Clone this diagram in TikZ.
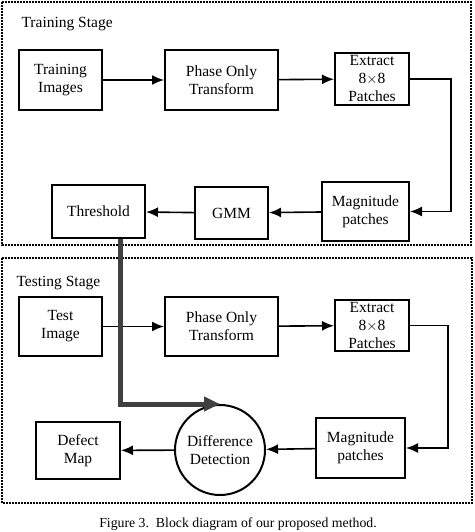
\documentclass[tikz,border=0pt]{standalone}
\usepackage{fontspec}
\setmainfont{Liberation Serif}
\usetikzlibrary{arrows.meta}
\newcommand\boxfont{\fontsize{15.5}{18}\selectfont}

\begin{document}
\begin{tikzpicture}[x=1pt,y=-1pt,
  block/.style={draw,line width=2pt,align=center,font=\boxfont,inner sep=1pt},
  flow/.style={line width=1.6pt,-{Latex[length=12pt,width=10pt]}},
  stage/.style={line width=1.2pt,dash pattern=on 2pt off 1pt}]
\useasboundingbox (0,0) rectangle (474,532);

% frames of the two stages
\draw[stage] (2,2) rectangle (471,245);
\draw[stage] (2,258) rectangle (472,503);
\node[anchor=west,font=\boxfont] (trainlbl) at (18,24) {Training Stage};
\node[anchor=west,font=\boxfont] (testlbl) at (13,283) {Testing Stage};

% training
\node[block,minimum width=83pt,minimum height=60pt] (trainimg) at (60.5,80) {Training\\Images};
\node[block,minimum width=113pt,minimum height=60pt] (pot1) at (221.5,80) {Phase Only\\Transform};
\node[block,minimum width=74pt,minimum height=52pt] (ext1) at (372,79) {Extract\\8$\times$8\\Patches};
\node[block,minimum width=87pt,minimum height=59pt] (mag1) at (365.5,211.5) {Magnitude\\patches};
\node[block,minimum width=73pt,minimum height=52pt] (gmm) at (231.5,213) {GMM};
\node[block,minimum width=93pt,minimum height=53pt] (thr) at (98.5,211.5) {Threshold};

\draw[flow] (trainimg) -- (pot1);
\draw[flow] (pot1) -- (ext1);
\draw[flow] (ext1.east) -- ++(41,0) |- (mag1.east);
\draw[flow] (mag1) -- (gmm);
\draw[flow] (gmm) -- (thr);

% testing
\node[block,minimum width=83pt,minimum height=59pt] (testimg) at (60.5,326.5) {Test\\Image};
\node[block,minimum width=113pt,minimum height=59pt] (pot2) at (221.5,326.5) {Phase Only\\Transform};
\node[block,minimum width=74pt,minimum height=51pt] (ext2) at (372,325.5) {Extract\\8$\times$8\\Patches};
\node[block,minimum width=89pt,minimum height=60pt] (mag2) at (360.5,448) {Magnitude\\patches};
\node[block,circle,minimum size=90pt] (diff) at (220,450) {Difference\\Detection};
\node[block,minimum width=84pt,minimum height=57pt] (defect) at (78,450.5) {Defect\\Map};

\draw[flow] (testimg) -- (pot2);
\draw[flow] (pot2) -- (ext2);
\draw[flow] (ext2.east) -- ++(38,0) |- (mag2.east);
\draw[flow] (mag2) -- (diff);
\draw[flow] (diff) -- (defect);

% threshold into the detection
\coordinate (tap) at ([xshift=21.5pt]thr.south);
\draw[line width=5pt,black!75,-{Triangle[length=16pt,width=14pt]}] (tap) |- (diff.north);

\node[anchor=base,font=\fontsize{13.8}{16}\selectfont] (caption) at (238,527) {Figure 3.\ \ Block diagram of our proposed method.};
\end{tikzpicture}
\end{document}
